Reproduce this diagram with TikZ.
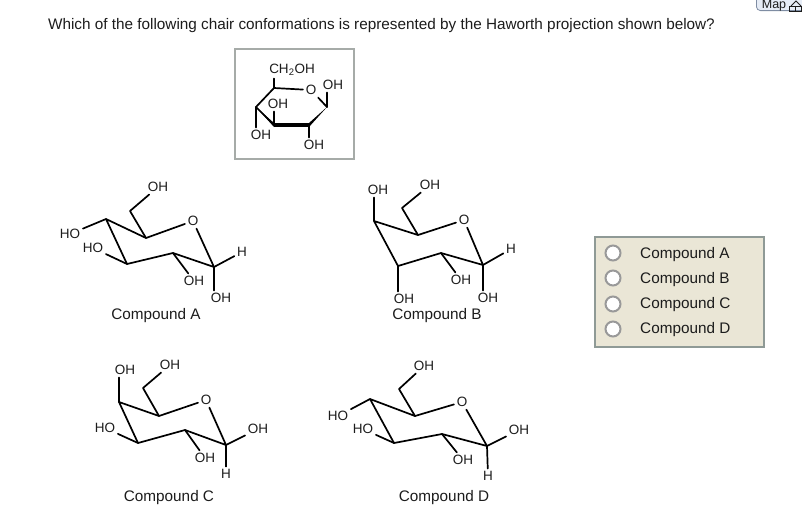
\documentclass[tikz,border=0pt]{standalone}
\usepackage{fontspec}
\setmainfont{Liberation Sans}
\usetikzlibrary{positioning}
\definecolor{panelfill}{HTML}{EAE6D6}
\definecolor{panelline}{HTML}{8F9A96}
\definecolor{boxline}{HTML}{A6ABA8}
\definecolor{mapfill}{HTML}{E6ECF6}
\definecolor{mapline}{HTML}{7F8DA3}
\definecolor{inktext}{HTML}{1C1C1C}
\tikzset{
  bond/.style={line width=1.7pt, black, line cap=round, line join=round},
  atom/.style={font=\fontsize{13.5}{14}\selectfont, text=inktext, inner sep=0.8pt, outer sep=2pt, yshift=-1pt},
  caption/.style={font=\fontsize{15.3}{16}\selectfont, text=inktext, inner sep=0pt, yshift=-2pt},
  radio/.style={circle, draw=gray!80, line width=2pt, fill=white, minimum size=15pt, inner sep=0pt},
  choice/.style={caption, anchor=west}
}

\begin{document}
\begin{tikzpicture}[x=1pt, y=-1pt]
\useasboundingbox (0,0) rectangle (802,523);

\node[caption] (question) at (381.5,24) {Which of the following chair conformations is represented by the Haworth projection shown below?};

\begin{scope}
\clip (0,0) rectangle (802,523);
\node[draw=mapline, fill=mapfill, rounded corners=4pt, minimum width=60pt, minimum height=22pt, anchor=south west, inner sep=0pt, line width=0.8pt] (mapbutton) at (756,11) {};
\node[font=\fontsize{12.5}{14}\selectfont, text=inktext, inner sep=0pt] (maptext) at (774,5.5) {Map};
\draw[line width=0.8pt, inktext] (789,6) rectangle (795,11);
\draw[line width=0.8pt, inktext] (795,6) rectangle (801,11);
\draw[line width=0.8pt, inktext] (791,6) -- (796,1) -- (801,6);
\end{scope}

\node[draw=boxline, line width=1.3pt, minimum width=119pt, minimum height=110pt, inner sep=0pt] (haworthbox) at (294.5,104) {};
\coordinate (hC1) at (327,107);
\coordinate (hC2) at (309,125);
\coordinate (hC3) at (274,125);
\coordinate (hC4) at (256,107);
\coordinate (hC5) at (274,88);
\node[atom] (hO) at (311,89) {O};
\node[atom] (hCH) at (292,69) {CH\textsubscript{2}OH};
\node[atom] (hOHa) at (333,84) {OH};
\node[atom] (hOHb) at (278,103) {OH};
\node[atom] (hOHc) at (261,134) {OH};
\node[atom] (hOHd) at (314,144) {OH};
\draw[bond] (hC5) -- (hO);
\draw[bond] (hO) -- (hC1);
\draw[bond] (hC3) -- (hC4);
\draw[bond] (hC4) -- (hC5);
\draw[bond] (hC5) -- (hCH.south -| hC5);
\draw[bond] (hC1) -- (hC1 |- hOHa.south);
\draw[bond] (hC3) -- (hC3 |- hOHb.south);
\draw[bond] (hC4) -- (hC4 |- hOHc.north);
\draw[bond] (hC2) -- (hC2 |- hOHd.north);
\draw[bond, line width=4pt, line cap=butt] (hC2) -- (hC3);
\fill (hC1) -- ([yshift=2pt]hC2) -- ([yshift=-2pt]hC2) -- cycle;
\fill (hC4) -- ([yshift=2pt]hC3) -- ([yshift=-2pt]hC3) -- cycle;

\coordinate (aC1) at (214,267);
\coordinate (aC2) at (173,253);
\coordinate (aC3) at (127,264);
\coordinate (aC4) at (106,219);
\coordinate (aC5) at (146,238);
\coordinate (aC6) at (130,211);
\node[atom] (aO) at (193,220) {O};
\node[atom] (aOHa) at (158,186) {OH};
\node[atom] (aHOb) at (70,233) {HO};
\node[atom] (aHOc) at (93,247) {HO};
\node[atom] (aOHd) at (194,280) {OH};
\node[atom] (aOHe) at (221,297) {OH};
\node[atom] (aH) at (242,251) {H};
\node[caption] (aname) at (156,314) {Compound A};
\draw[bond] (aC5) -- (aO) -- (aC1) -- (aC2) -- (aC3) -- (aC4) -- (aC5);
\draw[bond] (aC5) -- (aC6) -- (aOHa);
\draw[bond] (aC4) -- (aHOb);
\draw[bond] (aC3) -- (aHOc);
\draw[bond] (aC2) -- (aOHd);
\draw[bond] (aC1) -- (aC1 |- aOHe.north);
\draw[bond] (aC1) -- (aH);

\coordinate (bC1) at (483,265);
\coordinate (bC2) at (441,253);
\coordinate (bC3) at (398,266);
\coordinate (bC4) at (374,221);
\coordinate (bC5) at (418,235);
\coordinate (bC6) at (402,208);
\node[atom] (bO) at (464,219) {O};
\node[atom] (bOHa) at (430,184) {OH};
\node[atom] (bOHb) at (378,189) {OH};
\node[atom] (bOHc) at (404,298) {OH};
\node[atom] (bOHd) at (461,279) {OH};
\node[atom] (bOHe) at (488,297) {OH};
\node[atom] (bH) at (511,248) {H};
\node[caption] (bname) at (437,314) {Compound B};
\draw[bond] (bC5) -- (bO) -- (bC1) -- (bC2) -- (bC3) -- (bC4) -- (bC5);
\draw[bond] (bC5) -- (bC6) -- (bOHa);
\draw[bond] (bC4) -- (bC4 |- bOHb.south);
\draw[bond] (bC3) -- (bC3 |- bOHc.north);
\draw[bond] (bC2) -- (bOHd);
\draw[bond] (bC1) -- (bC1 |- bOHe.north);
\draw[bond] (bC1) -- (bH);

\coordinate (cC1) at (226,445);
\coordinate (cC2) at (185,430);
\coordinate (cC3) at (138,443);
\coordinate (cC4) at (119,402);
\coordinate (cC5) at (159,416);
\coordinate (cC6) at (143,388);
\node[atom] (cO) at (206,399) {O};
\node[atom] (cOHa) at (170,364) {OH};
\node[atom] (cOHb) at (125,369) {OH};
\node[atom] (cHOc) at (105,427) {HO};
\node[atom] (cOHd) at (205,457) {OH};
\node[atom] (cOHe) at (258,428) {OH};
\node[atom] (cH) at (226,473) {H};
\node[caption] (cname) at (169,496) {Compound C};
\draw[bond] (cC5) -- (cO) -- (cC1) -- (cC2) -- (cC3) -- (cC4) -- (cC5);
\draw[bond] (cC5) -- (cC6) -- (cOHa);
\draw[bond] (cC4) -- (cC4 |- cOHb.south);
\draw[bond] (cC3) -- (cHOc);
\draw[bond] (cC2) -- (cOHd);
\draw[bond] (cC1) -- (cOHe);
\draw[bond] (cC1) -- (cH);

\coordinate (dC1) at (487,446);
\coordinate (dC2) at (442,434);
\coordinate (dC3) at (394,443);
\coordinate (dC4) at (370,399);
\coordinate (dC5) at (415,416);
\coordinate (dC6) at (399,389);
\node[atom] (dO) at (462,401) {O};
\node[atom] (dOHa) at (424,365) {OH};
\node[atom] (dHOb) at (338,415) {HO};
\node[atom] (dHOc) at (363,428) {HO};
\node[atom] (dOHd) at (463,459) {OH};
\node[atom] (dOHe) at (519,429) {OH};
\node[atom] (dH) at (488,475) {H};
\node[caption] (dname) at (444,496) {Compound D};
\draw[bond] (dC5) -- (dO) -- (dC1) -- (dC2) -- (dC3) -- (dC4) -- (dC5);
\draw[bond] (dC5) -- (dC6) -- (dOHa);
\draw[bond] (dC4) -- (dHOb);
\draw[bond] (dC3) -- (dHOc);
\draw[bond] (dC2) -- (dOHd);
\draw[bond] (dC1) -- (dOHe);
\draw[bond] (dC1) -- (dH);

\node[draw=panelline, fill=panelfill, line width=2pt, minimum width=169pt, minimum height=110pt, inner sep=0pt] (panel) at (679,291.5) {};
\node[radio] (radioA) at (613,253) {};
\node[radio] (radioB) at (613,278) {};
\node[radio] (radioC) at (613,304) {};
\node[radio] (radioD) at (613,329) {};
\node[choice] (choiceA) at (640,253) {Compound A};
\node[choice] (choiceB) at (640,278) {Compound B};
\node[choice] (choiceC) at (640,303) {Compound C};
\node[choice] (choiceD) at (640,328) {Compound D};
\end{tikzpicture}
\end{document}
